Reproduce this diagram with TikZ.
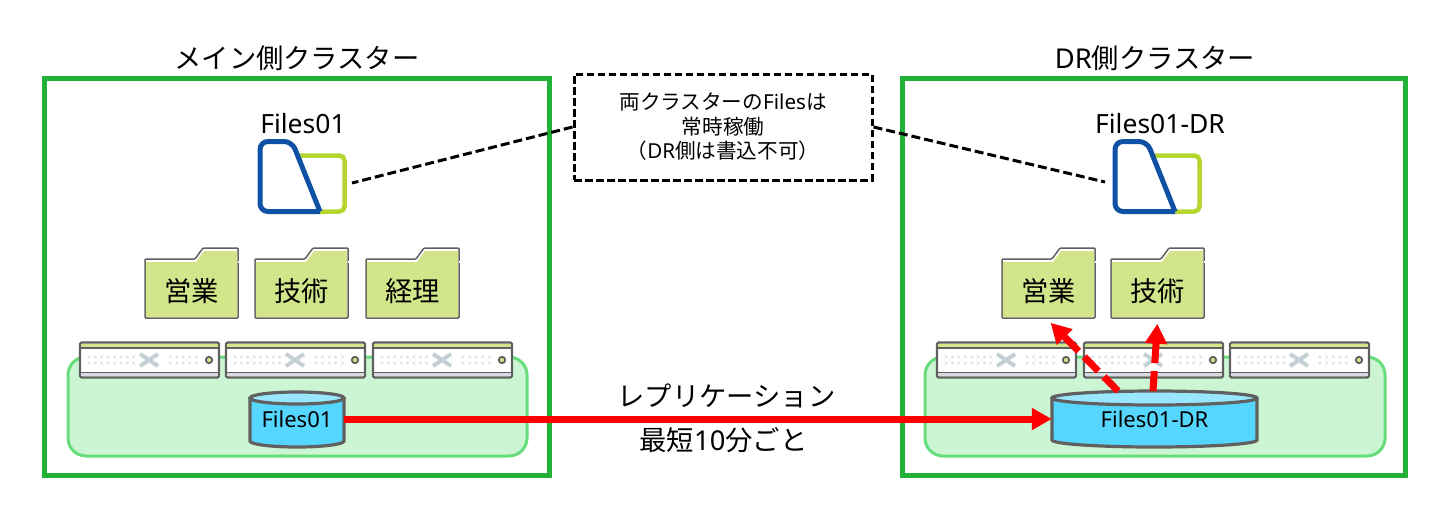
\documentclass[tikz,border=0pt]{standalone}
\usepackage{fontspec}
\usepackage{xcolor}
\usetikzlibrary{arrows.meta}
\setmainfont{Noto Sans}
\newfontfamily\jp{Noto Sans CJK JP}
\definecolor{clusterline}{HTML}{22B038}
\definecolor{regionfill}{HTML}{CCF5D3}
\definecolor{regionline}{HTML}{66DD7A}
\definecolor{foldergreen}{HTML}{D2E58A}
\definecolor{framegray}{HTML}{606060}
\definecolor{dotgray}{HTML}{DCE4E6}
\definecolor{xgray}{HTML}{C5D0D4}
\definecolor{stripgray}{HTML}{D5DBE0}
\definecolor{diskside}{HTML}{55D6FF}
\definecolor{disktop}{HTML}{99E6FF}
\definecolor{iconblue}{HTML}{0F52A5}
\definecolor{icongreen}{HTML}{B5D52F}
\tikzset{
  clusterbox/.style={draw=clusterline, line width=5pt, minimum height=397pt, inner sep=0pt},
  regionbox/.style={draw=regionline, fill=regionfill, line width=3pt, rounded corners=18pt},
  titletext/.style={font=\fontsize{27.3}{32}\selectfont},
  notebox/.style={draw, dashed, dash pattern=on 7.5pt off 3.5pt, line width=3pt, minimum width=298pt, minimum height=106pt, align=center, inner sep=0pt, font=\fontsize{20.6}{24.5}\selectfont},
  leader/.style={dashed, dash pattern=on 9pt off 4pt, line width=3pt},
  serverframe/.style={draw=framegray, line width=2.2pt, rounded corners=1.5pt},
  folderframe/.style={draw=framegray, fill=white, line width=1.5pt, rounded corners=1pt},
  foldertext/.style={minimum width=93pt, minimum height=59pt, inner sep=0pt, font=\fontsize{27.3}{32}\selectfont},
  disktext/.style={minimum height=56pt, inner sep=0pt, font=\fontsize{22}{26}\selectfont},
  diskframe/.style={draw=framegray, line width=3.2pt},
  fileblue/.style={draw=iconblue, line width=5pt, line join=round},
  filegreen/.style={draw=icongreen, line width=4.5pt, line join=round},
  redarrow/.style={draw=red, line width=7pt, -{Triangle[length=20pt,width=21pt]}},
  reddash/.style={draw=red, line width=7pt, dash pattern=on 20pt off 8pt, -{Triangle[length=20pt,width=21pt]}}
}
\begin{document}
\begin{tikzpicture}[x=1pt, y=-1pt]
  \useasboundingbox (0,0) rectangle (1448,515);
  % clusters
  \node[clusterbox, minimum width=505pt] (clustermain) at (297,276.5) {};
  \node[clusterbox, minimum width=503pt] (clusterdr) at (1154,276.5) {};
  \node[titletext] (titlemain) at (297,58) {\jp メイン側クラスター};
  \node[titletext] (titledr) at (1155,58) {DR\jp 側クラスター};
  \fill[regionbox] (68,357) rectangle (527,456);
  \fill[regionbox] (925,357) rectangle (1385,456);
  % servers
  \foreach \x in {80,226,373,937,1084,1230} {
    \draw[serverframe, fill=white] (\x,342.5) rectangle ++(139,35);
    \fill[foldergreen] (\x+1,343.5) rectangle ++(137,4);
    \fill[stripgray] (\x+1,372.5) rectangle ++(137,3.8);
    \draw[framegray, line width=1.5pt] (\x,348) -- ++(139,0);
    \draw[framegray, line width=1.5pt] (\x,372.3) -- ++(139,0);
    \foreach \r in {357,363} {
      \foreach \c in {0,...,7} \fill[dotgray] (\x+9+\c*6.4,\r) circle (1.6pt);
      \foreach \c in {0,...,4} \fill[dotgray] (\x+90+\c*6.6,\r) circle (1.6pt);
    }
    \draw[xgray, line width=4pt] (\x+60,354) -- ++(18,12) (\x+60,366) -- ++(18,-12);
    \draw[framegray, fill=foldergreen, line width=1.8pt] (\x+129,360) circle (3.2pt);
  }
  % disks
  \draw[diskframe, fill=diskside] (250,398) -- (250,441) arc[start angle=180, end angle=0, x radius=47, y radius=6] -- (344,398);
  \draw[diskframe, fill=disktop] (297,398) ellipse[x radius=47, y radius=6];
  \draw[diskframe, fill=diskside] (1052,398) -- (1052,440) arc[start angle=180, end angle=0, x radius=102.5, y radius=7] -- (1257,398);
  \draw[diskframe, fill=disktop] (1154.5,398) ellipse[x radius=102.5, y radius=7];
  \node[disktext, minimum width=94pt] (diskmain) at (297,419) {Files01};
  \node[disktext, minimum width=205pt] (diskdr) at (1154.5,419) {Files01-DR};
  % folders
  \foreach \x/\nm/\txt in {145/eigyomain/営業, 255/gijutsumain/技術, 366/keirimain/経理, 1002/eigyodr/営業, 1111/gijutsudr/技術} {
    \draw[folderframe] (\x,259) -- (\x+50,259) -- (\x+58,248) -- (\x+93,248) -- (\x+93,262) -- (\x+93,318) -- (\x,318) -- cycle;
    \fill[foldergreen] (\x+.8,262) -- (\x+51,262) -- (\x+59,251) -- (\x+92.2,251) -- (\x+92.2,317.2) -- (\x+.8,317.2) -- cycle;
    \fill[white] (\x+92.5,260.5) rectangle ++(2,2);
    \node[foldertext] (\nm) at (\x+46.5,291) {\jp \txt};
  }
  % file server icons
  \foreach \x in {0,855} {
    \draw[filegreen, rounded corners=5pt] (\x+296,155.5) -- (\x+344.5,155.5) -- (\x+344.5,211.5) -- (\x+319,211.5);
    \draw[fileblue, rounded corners=8pt] (\x+320,211.5) -- (\x+260,211.5) -- (\x+260,141.5) -- (\x+292,141.5) -- (\x+320,211.5);
  }
  \node[titletext, font=\fontsize{26.5}{30}\selectfont] (namemain) at (303,124) {Files01};
  \node[titletext, font=\fontsize{26.5}{30}\selectfont] (namedr) at (1160,124) {Files01-DR};
  % note and leaders
  \node[notebox] (note) at (723,127) {{\jp 両クラスターの}Files{\jp は}\\{\jp 常時稼働}\\{\jp （}DR{\jp 側は書込不可）}};
  \coordinate (iconmain) at (352,183);
  \coordinate (icondr) at (1105,182);
  \draw[leader] (note.west) -- (iconmain);
  \draw[leader] (note.east) -- (icondr);
  % replication
  \draw[redarrow] (diskmain.east) -- (diskdr.west);
  \node[titletext] (replabel) at (726.5,396) {\jp レプリケーション};
  \node[titletext] (timelabel) at (723.5,440) {\jp 最短\rmfamily 10\jp 分ごと};
  \coordinate (outa) at (1118,391);
  \coordinate (outb) at (1153,391);
  \draw[reddash, shorten >=3pt] (outa) -- (eigyodr.south);
  \draw[reddash, shorten >=3pt] (outb) -- (gijutsudr.south);
\end{tikzpicture}
\end{document}
